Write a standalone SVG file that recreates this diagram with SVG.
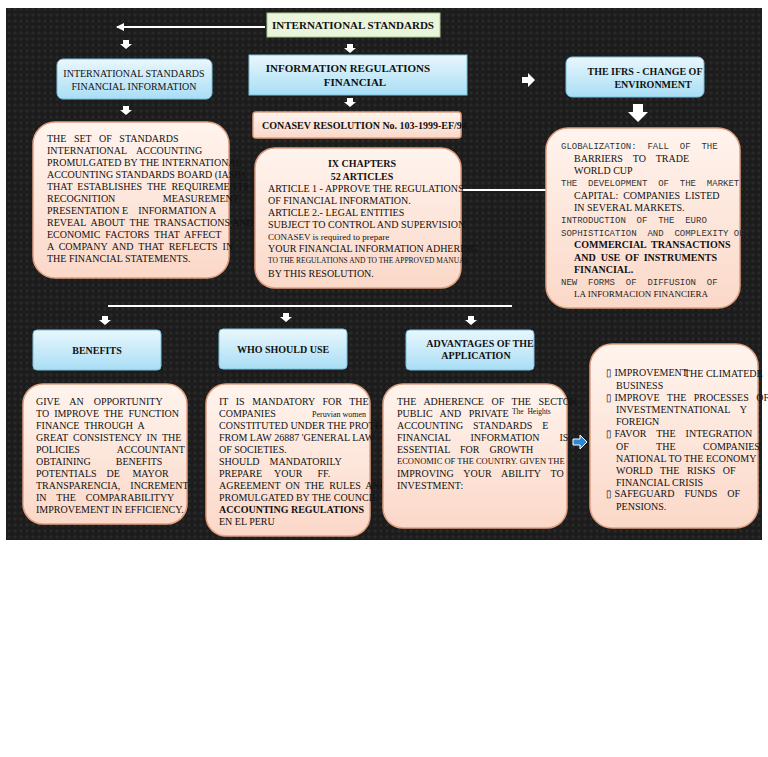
<svg xmlns="http://www.w3.org/2000/svg" width="768" height="757" viewBox="0 0 768 757">
<defs>
<linearGradient id="blue" x1="0" y1="0" x2="0" y2="1"><stop offset="0" stop-color="#e9f7fd"/><stop offset="1" stop-color="#a9def5"/></linearGradient>
<linearGradient id="peach" x1="0" y1="0" x2="0" y2="1"><stop offset="0" stop-color="#fff4ee"/><stop offset="1" stop-color="#fbd8c8"/></linearGradient>
<pattern id="tex" width="6" height="6" patternUnits="userSpaceOnUse"><rect width="6" height="6" fill="#1c1c1c"/><circle cx="3" cy="3" r="1.8" fill="#282828"/></pattern>
<marker id="ah" markerWidth="10" markerHeight="10" refX="7" refY="4" orient="auto" markerUnits="userSpaceOnUse"><path d="M0,0 L8,4 L0,8 Z" fill="#fff"/></marker>
<path id="dn" d="M-3,0 H3 V4 H6 L0,9 L-6,4 H-3 Z"/>
</defs>
<style>
text{font-family:"Liberation Serif","Times New Roman",serif;font-size:10px;fill:#111;white-space:pre}
.h{font-weight:bold;text-anchor:middle}
.m{font-family:"Liberation Mono","Courier New",monospace;font-size:9px;fill:#333}
.b{font-weight:bold}
.bl{fill:url(#blue);stroke:#7cc2e0;stroke-width:1}
.pc{fill:url(#peach);stroke:#e0a080;stroke-width:1.5}
.wa{fill:#fff}
</style>
<rect x="0" y="0" width="768" height="757" fill="#fff"/>
<rect x="6" y="8" width="756" height="532" fill="url(#tex)"/>

<g id="connectors">
<line x1="265" y1="27" x2="117" y2="27" stroke="#fff" stroke-width="2" marker-end="url(#ah)"/>
<line x1="461" y1="190" x2="580" y2="190" stroke="#fff" stroke-width="2"/>
<line x1="108" y1="306" x2="512" y2="306" stroke="#fff" stroke-width="2"/>
<use href="#dn" x="126" y="40" class="wa"/>
<use href="#dn" x="350" y="44" class="wa"/>
<use href="#dn" x="350" y="98" class="wa"/>
<use href="#dn" x="126" y="106" class="wa"/>
<path d="M633,104 H643 V112 H648 L638,122 L628,112 H633 Z" class="wa"/>
<path d="M522,77 H528 V73 L535,80 L528,87 V83 H522 Z" class="wa"/>
<use href="#dn" x="105" y="316" class="wa"/>
<use href="#dn" x="286" y="313" class="wa"/>
<use href="#dn" x="471" y="316" class="wa"/>
<path d="M573,439 H580 V435 L587,442 L580,449 V445 H573 Z" fill="#2a8ad8" stroke="#fff" stroke-width="1"/>
</g>

<g id="intl-standards">
<rect x="267" y="13" width="173" height="24" fill="#eaf6dc" stroke="#a8c890"/>
<text x="353" y="29" class="h" style="font-size:11px">INTERNATIONAL STANDARDS</text>
</g>
<g id="ifrs-info">
<rect x="57" y="59" width="155" height="40" rx="6" class="bl"/>
<text x="134" y="77" text-anchor="middle">INTERNATIONAL STANDARDS</text>
<text x="134" y="90" text-anchor="middle">FINANCIAL INFORMATION</text>
</g>
<g id="info-regulations">
<rect x="249" y="55" width="218" height="40" class="bl"/>
<text x="348" y="72" class="h" style="font-size:11px">INFORMATION REGULATIONS</text>
<text x="355" y="86" class="h" style="font-size:11px">FINANCIAL</text>
</g>
<g id="ifrs-change">
<rect x="566" y="57" width="138" height="40" rx="6" class="bl"/>
<text x="645" y="75" class="h">THE IFRS - CHANGE OF</text>
<text x="653" y="88" class="h">ENVIRONMENT</text>
</g>
<g id="conasev">
<rect x="253" y="112" width="208" height="26" rx="3" class="pc"/>
<text x="262" y="129" class="b">CONASEV RESOLUTION No. 103-1999-EF/94</text>
</g>
<g id="set-of-standards">
<rect x="33" y="122" width="196" height="156" rx="22" class="pc"/>
<text x="47" y="142">THE   SET   OF   STANDARDS</text>
<text x="47" y="154">INTERNATIONAL    ACCOUNTING</text>
<text x="47" y="166">PROMULGATED BY THE INTERNATIONAL</text>
<text x="47" y="178">ACCOUNTING STANDARDS BOARD (IASB)</text>
<text x="47" y="190">THAT  ESTABLISHES  THE  REQUIREMENTS</text>
<text x="47" y="202">RECOGNITION                   MEASUREMENT</text>
<text x="47" y="214">PRESENTATION E    INFORMATION A</text>
<text x="47" y="226">REVEAL  ABOUT  THE  TRANSACTIONS AND</text>
<text x="47" y="238">ECONOMIC  FACTORS  THAT  AFFECT</text>
<text x="47" y="250">A  COMPANY  AND  THAT  REFLECTS  IN</text>
<text x="47" y="262">THE FINANCIAL STATEMENTS.</text>
</g>
<g id="chapters">
<rect x="255" y="148" width="206" height="140" rx="20" class="pc"/>
<text x="362" y="167" class="h">IX CHAPTERS</text>
<text x="362" y="180" class="h">52 ARTICLES</text>
<text x="268" y="192">ARTICLE 1 - APPROVE THE REGULATIONS</text>
<text x="268" y="204">OF FINANCIAL INFORMATION.</text>
<text x="268" y="216">ARTICLE 2.- LEGAL ENTITIES</text>
<text x="268" y="228">SUBJECT TO CONTROL AND SUPERVISION</text>
<text x="268" y="240" style="font-size:9px">CONASEV is required to prepare</text>
<text x="268" y="252">YOUR FINANCIAL INFORMATION ADHERING</text>
<text x="268" y="263" style="font-size:7.5px">TO THE REGULATIONS AND TO THE APPROVED MANUAL</text>
<text x="268" y="277">BY THIS RESOLUTION.</text>
</g>
<g id="ifrs-detail">
<rect x="546" y="128" width="194" height="180" rx="22" class="pc"/>
<text x="561" y="149" class="m">GLOBALIZATION:  FALL  OF  THE</text>
<text x="574" y="162">BARRIERS    TO    TRADE</text>
<text x="574" y="174">WORLD CUP</text>
<text x="561" y="186" class="m">THE  DEVELOPMENT  OF  THE  MARKET</text>
<text x="574" y="199">CAPITAL:  COMPANIES  LISTED</text>
<text x="574" y="211">IN SEVERAL MARKETS.</text>
<text x="561" y="223" class="m">INTRODUCTION  OF  THE  EURO</text>
<text x="561" y="236" class="m">SOPHISTICATION  AND  COMPLEXITY OF</text>
<text x="574" y="248" class="b">COMMERCIAL  TRANSACTIONS</text>
<text x="574" y="261" class="b">AND  USE  OF  INSTRUMENTS</text>
<text x="574" y="273" class="b">FINANCIAL.</text>
<text x="561" y="285" class="m">NEW  FORMS  OF  DIFFUSION  OF</text>
<text x="574" y="297" style="font-size:9px">LA INFORMACION FINANCIERA</text>
</g>
<g id="benefits">
<rect x="33" y="330" width="128" height="40" rx="4" class="bl"/>
<text x="97" y="354" class="h">BENEFITS</text>
</g>
<g id="who-should-use">
<rect x="219" y="329" width="128" height="40" rx="4" class="bl"/>
<text x="283" y="353" class="h">WHO SHOULD USE</text>
</g>
<g id="advantages">
<rect x="406" y="330" width="128" height="40" rx="4" class="bl"/>
<text x="480" y="347" class="h">ADVANTAGES OF THE</text>
<text x="476" y="359" class="h">APPLICATION</text>
</g>
<g id="benefits-text">
<rect x="23" y="384" width="164" height="140" rx="20" class="pc"/>
<text x="36" y="405">GIVE    AN    OPPORTUNITY</text>
<text x="36" y="417">TO  IMPROVE  THE  FUNCTION</text>
<text x="36" y="429">FINANCE  THROUGH  A</text>
<text x="36" y="441">GREAT  CONSISTENCY  IN  THE</text>
<text x="36" y="453">POLICIES               ACCOUNTANT</text>
<text x="36" y="465">OBTAINING          BENEFITS</text>
<text x="36" y="477">POTENTIALS    DE     MAYOR</text>
<text x="36" y="489">TRANSPARENCIA,    INCREMENT</text>
<text x="36" y="501">IN    THE    COMPARABILITYY</text>
<text x="36" y="513">IMPROVEMENT IN EFFICIENCY.</text>
</g>
<g id="who-text">
<rect x="206" y="384" width="164" height="152" rx="20" class="pc"/>
<text x="219" y="405">IT   IS   MANDATORY   FOR   THE</text>
<text x="219" y="417">COMPANIES</text>
<text x="312" y="417" style="font-size:8px">Peruvian women</text>
<text x="219" y="429">CONSTITUTED UNDER THE PROTECTION</text>
<text x="219" y="441">FROM LAW 26887 'GENERAL LAW</text>
<text x="219" y="453">OF SOCIETIES.</text>
<text x="219" y="465">SHOULD    MANDATORILY</text>
<text x="219" y="477">PREPARE     YOUR      FF.</text>
<text x="219" y="489">AGREEMENT  ON  THE  RULES  AND</text>
<text x="219" y="501">PROMULGATED BY THE COUNCIL</text>
<text x="219" y="513" class="b">ACCOUNTING REGULATIONS</text>
<text x="219" y="525">EN EL PERU</text>
</g>
<g id="advantages-text">
<rect x="383" y="384" width="184" height="144" rx="20" class="pc"/>
<text x="397" y="405">THE   ADHERENCE   OF   THE   SECTOR</text>
<text x="397" y="417">PUBLIC   AND   PRIVATE</text>
<text x="512" y="414" style="font-size:7.5px">The  Heights</text>
<text x="397" y="429">ACCOUNTING    STANDARDS    E</text>
<text x="397" y="441">FINANCIAL        INFORMATION        IS</text>
<text x="397" y="453">ESSENTIAL    FOR    GROWTH</text>
<text x="397" y="464" style="font-size:8.5px">ECONOMIC OF THE COUNTRY. GIVEN THE</text>
<text x="397" y="477">IMPROVING    YOUR    ABILITY    TO</text>
<text x="397" y="489">INVESTMENT:</text>
</g>
<g id="advantages-list">
<rect x="590" y="344" width="168" height="184" rx="22" class="pc"/>
<text x="606" y="376">▯ IMPROVEMENT</text>
<text x="684" y="377">THE CLIMATEDE</text>
<text x="616" y="389">BUSINESS</text>
<text x="606" y="401">▯ IMPROVE   THE   PROCESSES   OF</text>
<text x="616" y="413">INVESTMENTNATIONAL    Y</text>
<text x="616" y="425">FOREIGN</text>
<text x="606" y="437">▯ FAVOR    THE    INTEGRATION</text>
<text x="616" y="450">OF           THE           COMPANIES</text>
<text x="616" y="462">NATIONAL TO THE ECONOMY</text>
<text x="616" y="474">WORLD   THE   RISKS   OF</text>
<text x="616" y="486">FINANCIAL CRISIS</text>
<text x="606" y="497">▯ SAFEGUARD    FUNDS    OF</text>
<text x="616" y="510">PENSIONS.</text>
</g>
</svg>
